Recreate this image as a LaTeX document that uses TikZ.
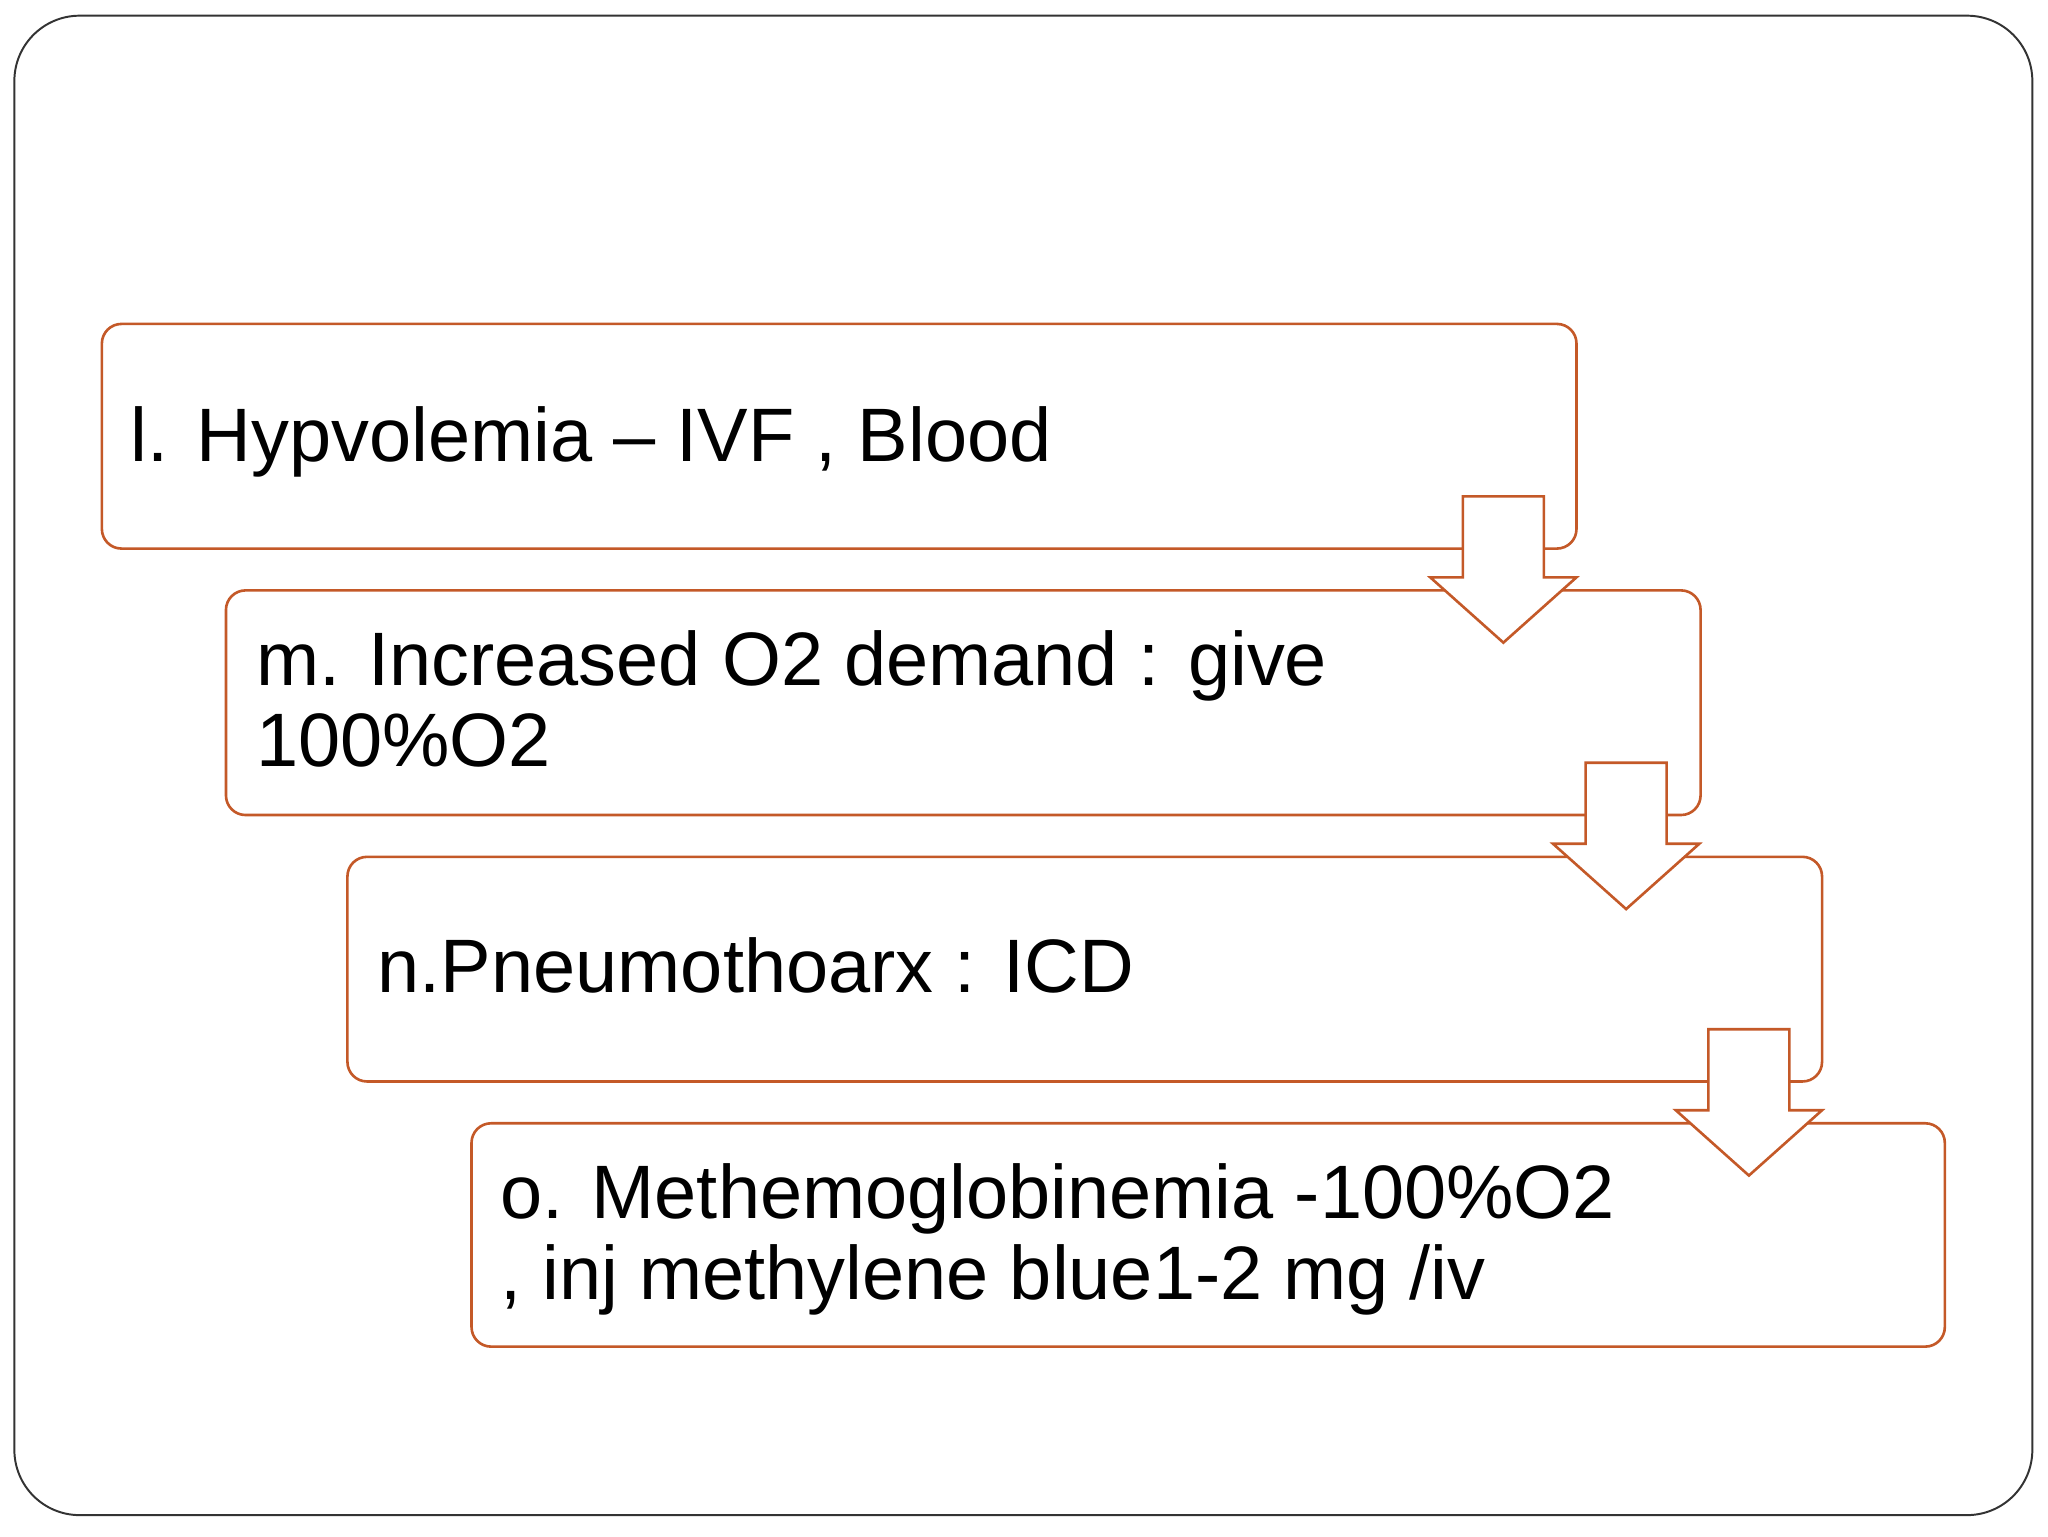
\documentclass[tikz,border=0pt]{standalone}
\usepackage{fontspec}
\setmainfont{Liberation Sans}
\definecolor{boxc}{RGB}{196,89,40}
\begin{document}
\begin{tikzpicture}[x=1pt,y=-1pt,
 box/.style={draw=boxc,line width=2pt,rounded corners=15pt,fill=white},
 txt/.style={anchor=base west,inner sep=0pt,align=left,font=\fontsize{58}{62}\selectfont},
 barrow/.style={draw=boxc,line width=2pt,fill=white,line join=miter}]
\useasboundingbox (0,0) rectangle (1568,1176);
\draw[rounded corners=50pt,line width=1.5pt,draw=black!80] (11,12) rectangle (1556,1160);
\draw[box] (78,248) rectangle (1207,420);
\draw[box] (173,452) rectangle (1302,624);
\draw[box] (266,656) rectangle (1395,828);
\draw[box] (361,860) rectangle (1489,1031);
\node[txt] (t1) at (100,353) {l. Hypvolemia -- IVF , Blood};
\node[txt] (t2) at (196,587) {m. Increased O2 demand : give\\100\%O2};
\node[txt] (t3) at (289,760) {n.Pneumothoarx : ICD};
\node[txt] (t4) at (383,995) {o. Methemoglobinemia -100\%O2\\, inj methylene blue1-2 mg /iv};
\foreach \dx/\dy in {0/0,94/204,188/408}{
 \draw[barrow] (1120+\dx,380+\dy) -- (1182+\dx,380+\dy) -- (1182+\dx,442+\dy) -- (1207+\dx,442+\dy)
   -- (1151+\dx,492+\dy) -- (1095+\dx,442+\dy) -- (1120+\dx,442+\dy) -- cycle;
}
\end{tikzpicture}
\end{document}
